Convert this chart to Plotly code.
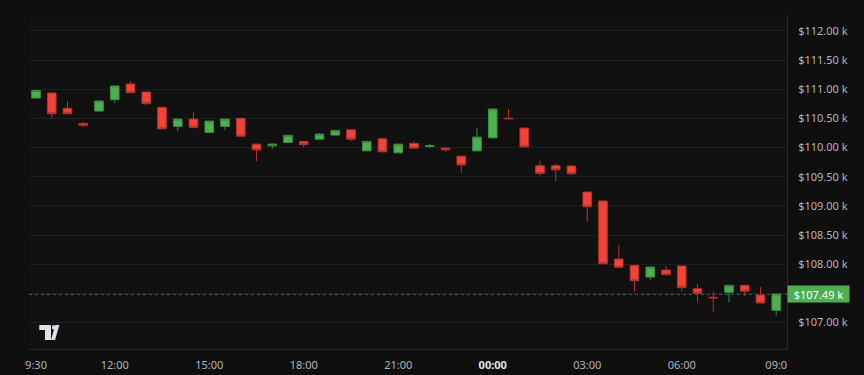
import pandas as pd
import plotly.graph_objects as go

# ---- data (30-minute candles) ----
times = pd.date_range("2025-06-11 09:30", periods=48, freq="30min")

opens = [110850, 110936, 110674, 110416, 110627, 110821, 111091, 110954, 110691, 110364,
         110490, 110261, 110364, 110502, 110060, 110031, 110090, 110107, 110146, 110215,
         110306, 109945, 110151, 109911, 110072, 110020, 109992, 109854, 109945, 110168,
         110505, 110335, 109689, 109689, 109685, 109239, 109085, 108091, 107983, 107782,
         107902, 107971, 107582, 107434, 107520, 107640, 107474, 107211]
highs = [110985, 110940, 110799, 110438, 110802, 111060, 111143, 110957, 110694, 110492,
         110610, 110458, 110492, 110505, 110063, 110077, 110213, 110110, 110250, 110297,
         110309, 110110, 110168, 110063, 110112, 110060, 109995, 109857, 110335, 110665,
         110662, 110338, 109777, 109723, 109688, 109242, 109088, 108331, 107986, 107957,
         107971, 107974, 107662, 107537, 107643, 107643, 107611, 107493]
lows = [110845, 110507, 110578, 110352, 110624, 110770, 110940, 110735, 110320, 110289,
        110341, 110258, 110300, 110194, 109768, 109980, 110087, 110009, 110143, 110212,
        110112, 109942, 109925, 109908, 109975, 109992, 109935, 109567, 109942, 110165,
        110493, 110011, 109523, 109419, 109536, 108730, 108007, 107946, 107530, 107731,
        107811, 107530, 107348, 107182, 107349, 107462, 107334, 107119]
closes = [110980, 110581, 110581, 110382, 110799, 111057, 110942, 110753, 110323, 110490,
          110344, 110455, 110490, 110197, 109962, 110060, 110210, 110055, 110232, 110294,
          110146, 110107, 109928, 110060, 109992, 110037, 109962, 109705, 110180, 110662,
          110495, 110014, 109557, 109620, 109553, 108987, 108010, 107949, 107719, 107954,
          107822, 107599, 107503, 107425, 107640, 107537, 107337, 107490]

last_price = 107490
last_label = "$107.49 k"

y_ticks = [107000, 107500, 108000, 108500, 109000, 109500, 110000, 110500, 111000, 111500, 112000]
# the $107.50 k label sits under the last-price tag in the reference, so it is not shown
y_tick_text = ["$107.00 k", "", "$108.00 k", "$108.50 k", "$109.00 k", "$109.50 k",
               "$110.00 k", "$110.50 k", "$111.00 k", "$111.50 k", "$112.00 k"]

x_ticks = ["2025-06-11 09:30", "2025-06-11 12:00", "2025-06-11 15:00", "2025-06-11 18:00",
           "2025-06-11 21:00", "2025-06-12 00:00", "2025-06-12 03:00", "2025-06-12 06:00",
           "2025-06-12 09:00"]
x_tick_text = ["9:30", "12:00", "15:00", "18:00", "21:00",
               "<b><span style='color:#e6e6e6'>00:00</span></b>", "03:00", "06:00", "09:0"]

GREEN = "#4caf50"
RED = "#f44336"
BG = "#0f0f0f"
PLOT_BG = "#111111"
GRID = "#1f1f1f"
TEXT = "#b4b4b4"
FONT = "Noto Sans"

fig = go.Figure()
fig.add_trace(go.Candlestick(
    x=times, open=opens, high=highs, low=lows, close=closes,
    increasing=dict(fillcolor=GREEN, line=dict(color="#3a8f3e", width=1)),
    decreasing=dict(fillcolor=RED, line=dict(color="#b2332c", width=1)),
    whiskerwidth=0, hoverinfo="skip", showlegend=False,
))

# last price dotted line
fig.add_shape(type="line", xref="paper", x0=0, x1=1, yref="y", y0=last_price, y1=last_price,
              line=dict(color=GREEN, width=1, dash="dot"), layer="below")

# last price label
fig.add_annotation(xref="paper", x=1, yref="y", y=last_price, xanchor="left", yanchor="middle",
                   text=last_label, showarrow=False, bgcolor=GREEN,
                   font=dict(family=FONT, size=11, color="#ffffff"),
                   width=58, height=13, borderpad=1.5)

# TradingView-like logo (decoration)
logo_fill = "#dfe1e8"
fig.add_shape(type="path", xref="paper", yref="paper",
              path="M 0.0136,0.0719 L 0.0290,0.0719 L 0.0290,0.0270 L 0.0211,0.0270 L 0.0211,0.0569 L 0.0136,0.0569 Z",
              fillcolor=logo_fill, line=dict(width=0))
fig.add_shape(type="circle", xref="paper", yref="paper",
              x0=0.0303, x1=0.0348, y0=0.0575, y1=0.0719,
              fillcolor=logo_fill, line=dict(width=0))
fig.add_shape(type="path", xref="paper", yref="paper",
              path="M 0.0348,0.0719 L 0.0401,0.0719 L 0.0343,0.0270 L 0.0290,0.0270 Z",
              fillcolor=logo_fill, line=dict(width=0))

fig.update_layout(
    width=864, height=375,
    margin=dict(l=29, r=77, t=15, b=26),
    paper_bgcolor=BG, plot_bgcolor=PLOT_BG,
    font=dict(family=FONT, size=11, color=TEXT),
    boxgap=0.22,
    xaxis=dict(
        type="date",
        range=["2025-06-11 09:16:40", "2025-06-12 09:20:30"],
        rangeslider=dict(visible=False),
        showgrid=False, zeroline=False,
        tickvals=x_ticks, ticktext=x_tick_text,
        tickfont=dict(family=FONT, size=11, color=TEXT),
        showline=True, linecolor="#2a2a2a", linewidth=1,
        ticks="outside", ticklen=6, tickcolor=BG,
        automargin=False,
        fixedrange=True,
    ),
    yaxis=dict(
        side="right",
        range=[106548, 112274],
        tickvals=y_ticks, ticktext=y_tick_text,
        showgrid=True, gridcolor=GRID, gridwidth=1,
        zeroline=False,
        showline=True, linecolor="#2a2a2a", linewidth=1,
        ticks="outside", ticklen=8, tickcolor=BG,
        tickfont=dict(family=FONT, size=11, color=TEXT),
        automargin=False,
        fixedrange=True,
    ),
)

fig.write_html("out.html", config={"displayModeBar": False})
